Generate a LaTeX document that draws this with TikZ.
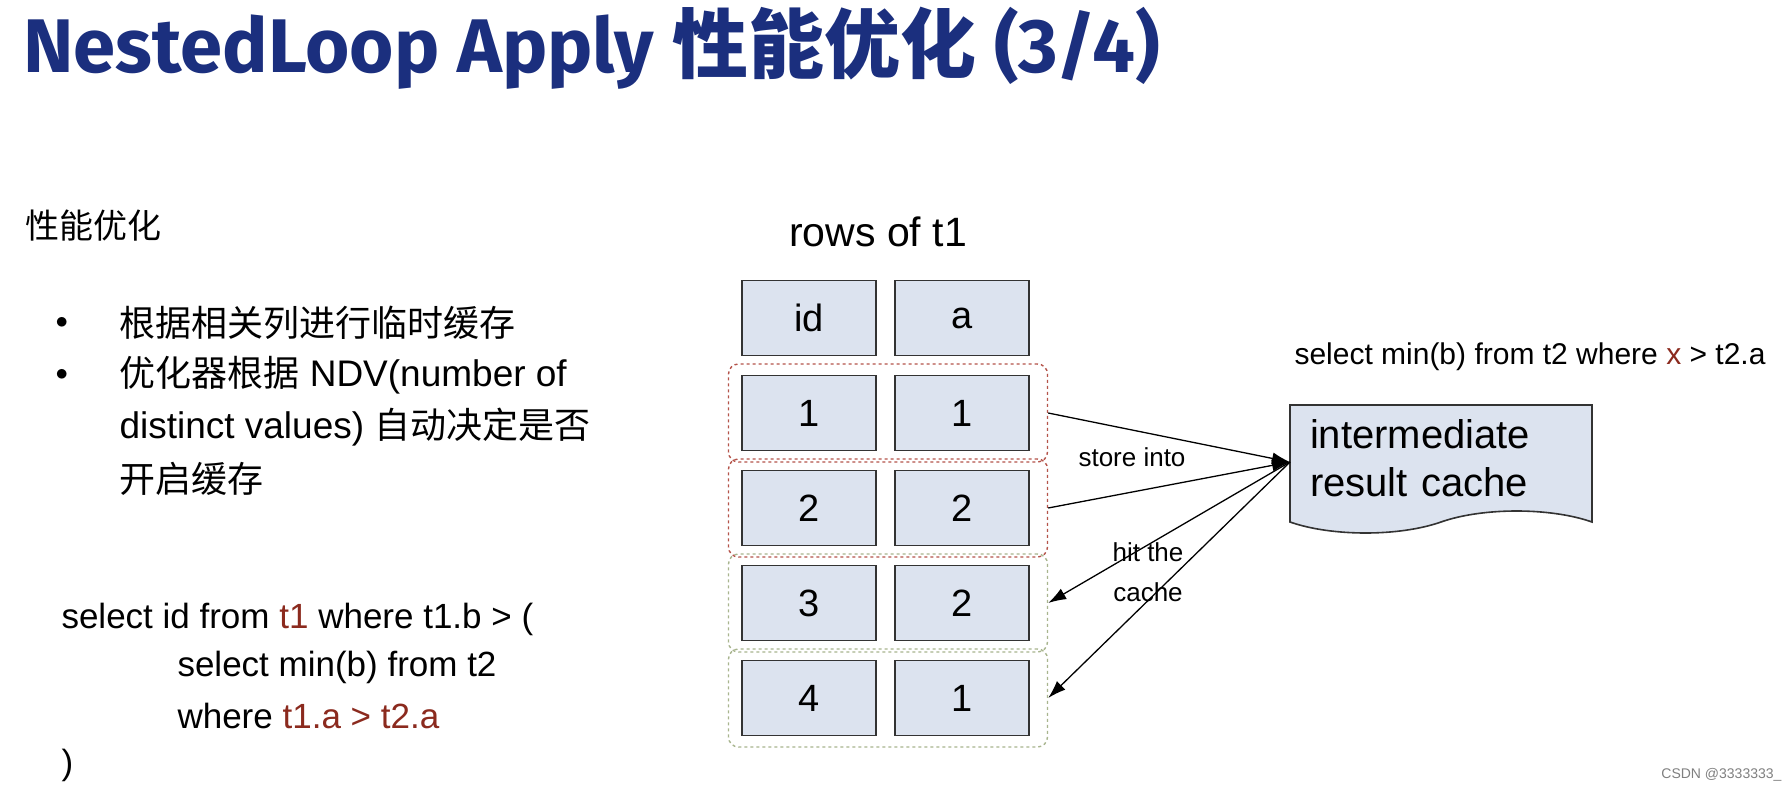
\documentclass[tikz,border=0pt]{standalone}
\usepackage{fontspec}
\setmainfont{Liberation Sans}
\newfontfamily\cjk{Noto Sans CJK SC}
\newfontfamily\titlefont{Fira Sans}
\usetikzlibrary{shapes.symbols, arrows.meta, positioning}
\definecolor{cellfill}{HTML}{DCE3EF}
\definecolor{titleblue}{HTML}{1B2F7E}
\definecolor{sqlred}{HTML}{8B2A1E}
\definecolor{grpred}{HTML}{B5544A}
\definecolor{grpgreen}{HTML}{A8B58E}
\tikzstyle{cell} = [rectangle, draw=black!80, line width=1.6pt, fill=cellfill, minimum width=134pt, minimum height=75pt, font=\fontsize{38}{42}\selectfont]
\tikzstyle{grp} = [rectangle, rounded corners=10pt, dashed, line width=1.4pt, minimum width=319pt, minimum height=98pt]
\tikzstyle{arrow} = [line width=1.3pt, -{Latex[length=18pt,width=12pt]}]

\begin{document}
\begin{tikzpicture}[x=1pt, y=-1pt]
  \useasboundingbox[fill=white] (0,0) rectangle (1792,792);

  % title and left text
  \node (title) [anchor=west, text=titleblue, font=\titlefont\bfseries\fontsize{76}{82}\selectfont] at (20,48) {NestedLoop Apply {\cjk\bfseries 性能优化} (3/4)};
  \node (perf) [anchor=west, font=\cjk\fontsize{34}{38}\selectfont] at (22,226) {性能优化};
  \node (b1) [anchor=west, font=\fontsize{36}{40}\selectfont] at (52,323) {$\bullet$};
  \node (b2) [anchor=west, font=\fontsize{36}{40}\selectfont] at (52,375) {$\bullet$};
  \node (t1) [anchor=west, font=\cjk\fontsize{36}{40}\selectfont] at (116,323) {根据相关列进行临时缓存};
  \node (t2) [anchor=west, font=\fontsize{37}{40}\selectfont] at (116,375) {{\cjk\fontsize{36}{40}\selectfont 优化器根据} NDV(number of};
  \node (t3) [anchor=west, font=\fontsize{37}{40}\selectfont] at (116,427) {distinct values) {\cjk\fontsize{36}{40}\selectfont 自动决定是否}};
  \node (t4) [anchor=west, font=\cjk\fontsize{36}{40}\selectfont] at (116,479) {开启缓存};

  % query
  \node (q1) [anchor=west, font=\fontsize{35}{40}\selectfont] at (58,619) {select id from \textcolor{sqlred}{t1} where t1.b > (};
  \node (q2) [anchor=west, font=\fontsize{35}{40}\selectfont] at (174,667) {select min(b) from t2};
  \node (q3) [anchor=west, font=\fontsize{35}{40}\selectfont] at (174,716) {where \textcolor{sqlred}{t1.a > t2.a}};
  \node (q4) [anchor=west, font=\fontsize{35}{40}\selectfont] at (58,765) {)};

  % rows of t1
  \node (rows) [font=\fontsize{41}{46}\selectfont] at (878,232) {rows of t1};
  \node (g1) [grp, draw=grpred] at (888,413) {};
  \node (g2) [grp, draw=grpred] at (888,508) {};
  \node (g3) [grp, draw=grpgreen] at (888,603) {};
  \node (g4) [grp, draw=grpgreen] at (888,698) {};
  \node (hid) [cell] at (809,318) {id};
  \node (ha) [cell] at (962,318) {a};
  \node (id1) [cell] at (809,413) {1};
  \node (a1) [cell] at (962,413) {1};
  \node (id2) [cell] at (809,508) {2};
  \node (a2) [cell] at (962,508) {2};
  \node (id3) [cell] at (809,603) {3};
  \node (a3) [cell] at (962,603) {2};
  \node (id4) [cell] at (809,698) {4};
  \node (a4) [cell] at (962,698) {1};

  % cache
  \node (sel) [font=\fontsize{30}{34}\selectfont] at (1530,357) {select min(b) from t2 where \textcolor{sqlred}{x} > t2.a};
  \node (cache) [tape, tape bend top=none, tape bend height=22pt, draw=black!80, line width=1.6pt, fill=cellfill, minimum width=302pt, minimum height=128pt, align=left, text width=262pt, font=\fontsize{40}{48}\selectfont] at (1441,458) {intermediate\\result cache};
  \coordinate (hit) at (1290,462);

  \draw[arrow] (g1.east) -- (hit);
  \draw[arrow] (g2.east) -- (hit);
  \draw[arrow] (hit) -- (g3.east);
  \draw[arrow] (hit) -- (g4.east);
  \node (store) [font=\fontsize{26}{30}\selectfont] at (1132,457) {store into};
  \node (hitc) [font=\fontsize{26}{40}\selectfont, align=center] at (1148,572) {hit the\\cache};
  \node (csdn) [anchor=south east, text=black!50, font=\fontsize{14}{16}\selectfont] at (1785,785) {CSDN @3333333\_};
\end{tikzpicture}
\end{document}
